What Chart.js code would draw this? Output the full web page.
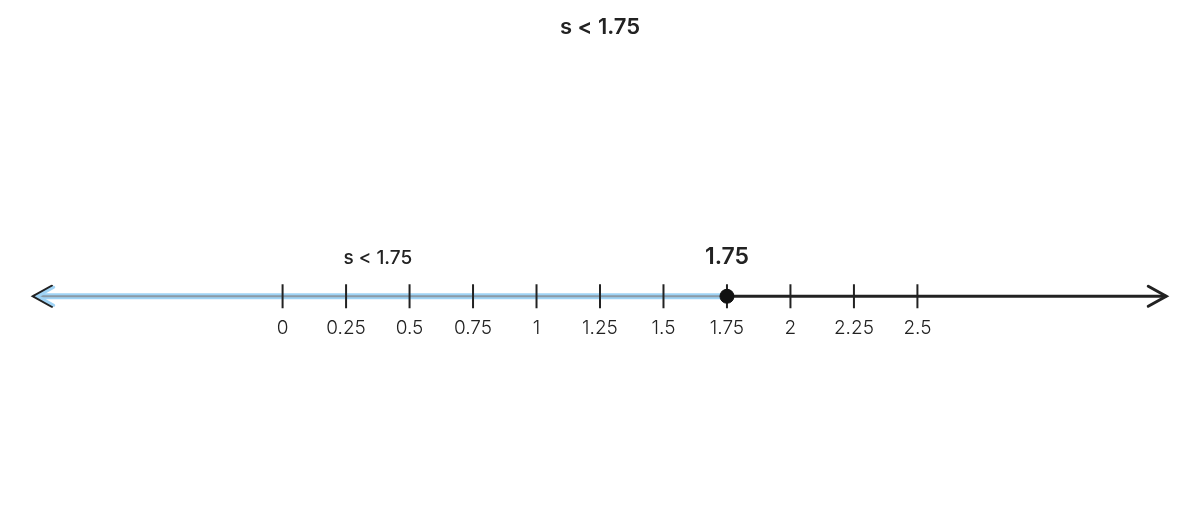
<!DOCTYPE html>
<html><head><meta charset="utf-8">
<script src="https://cdn.jsdelivr.net/npm/chart.js@4"></script>
<style>html,body{margin:0;padding:0;background:#fff}#w{width:1200px;height:530px}</style>
</head><body><div id="w"><canvas id="c"></canvas></div>
<script>
const tickValues=[0,0.25,0.5,0.75,1,1.25,1.5,1.75,2,2.25,2.5];
const tickLabels=["0","0.25","0.5","0.75","1","1.25","1.5","1.75","2","2.25","2.5"];
const lineStart=-0.98, lineEnd=3.48;
const boundary=1.75;
const title="s < 1.75";
const regionLabel="s < 1.75", regionLabelX=0.375;
const lineY=298;

const textPlugin={id:'txt',afterDatasetsDraw(ch){
  const x=ch.scales.x,y=ch.scales.y,c=ch.ctx;c.save();
  c.fillStyle='#222';c.textAlign='center';c.textBaseline='middle';
  c.font='300 19px Inter';
  tickValues.forEach((v,i)=>c.fillText(tickLabels[i],x.getPixelForValue(v),y.getPixelForValue(332)));
  c.font='600 22px Inter';c.fillText(title,600,27);
  c.font='500 19px Inter';c.fillText(regionLabel,x.getPixelForValue(regionLabelX),y.getPixelForValue(258));
  c.font='600 23px Inter';c.fillText(String(boundary),x.getPixelForValue(boundary),y.getPixelForValue(257));
  // arrowheads
  const yp=y.getPixelForValue(lineY);
  c.lineWidth=3;c.strokeStyle='#222';c.lineCap='round';
  let xr=x.getPixelForValue(lineEnd);
  c.beginPath();c.moveTo(xr-18,yp-10);c.lineTo(xr,yp);c.lineTo(xr-18,yp+10);c.stroke();
  let xl=x.getPixelForValue(lineStart);
  c.beginPath();c.moveTo(xl+18,yp-10);c.lineTo(xl,yp);c.lineTo(xl+18,yp+10);c.stroke();
  c.strokeStyle='#9fd3f5';c.lineWidth=3;
  c.beginPath();c.moveTo(xl+20,yp-9);c.lineTo(xl+4,yp);c.lineTo(xl+20,yp+9);c.stroke();
  c.restore();
}};
new Chart(document.getElementById('c'),{
  type:'scatter',
  data:{datasets:[
    {data:[{x:boundary,y:lineY}],pointRadius:7,backgroundColor:'#111',borderColor:'#111',order:0},
    {data:tickValues.map(v=>({x:v,y:lineY})),pointStyle:'line',rotation:90,pointRadius:12,borderWidth:2,borderColor:'#222',order:1},
    {data:[{x:lineStart+0.02,y:lineY},{x:boundary,y:lineY}],showLine:true,borderColor:'#8a9aa6',borderWidth:2,pointRadius:0,order:2},
    {data:[{x:lineStart+0.02,y:lineY},{x:boundary,y:lineY}],showLine:true,borderColor:'#9fd3f5',borderWidth:6,pointRadius:0,order:3},
    {data:[{x:lineStart,y:lineY},{x:lineEnd,y:lineY}],showLine:true,borderColor:'#222',borderWidth:3,pointRadius:0,order:4}
  ]},
  plugins:[textPlugin],
  options:{responsive:true,maintainAspectRatio:false,animation:false,
    layout:{padding:0},
    plugins:{legend:{display:false},tooltip:{enabled:false},title:{display:false}},
    scales:{x:{type:'linear',min:-275/260,max:925/260,display:false},
            y:{type:'linear',min:0,max:530,reverse:true,display:false}}}
});
</script></body></html>
